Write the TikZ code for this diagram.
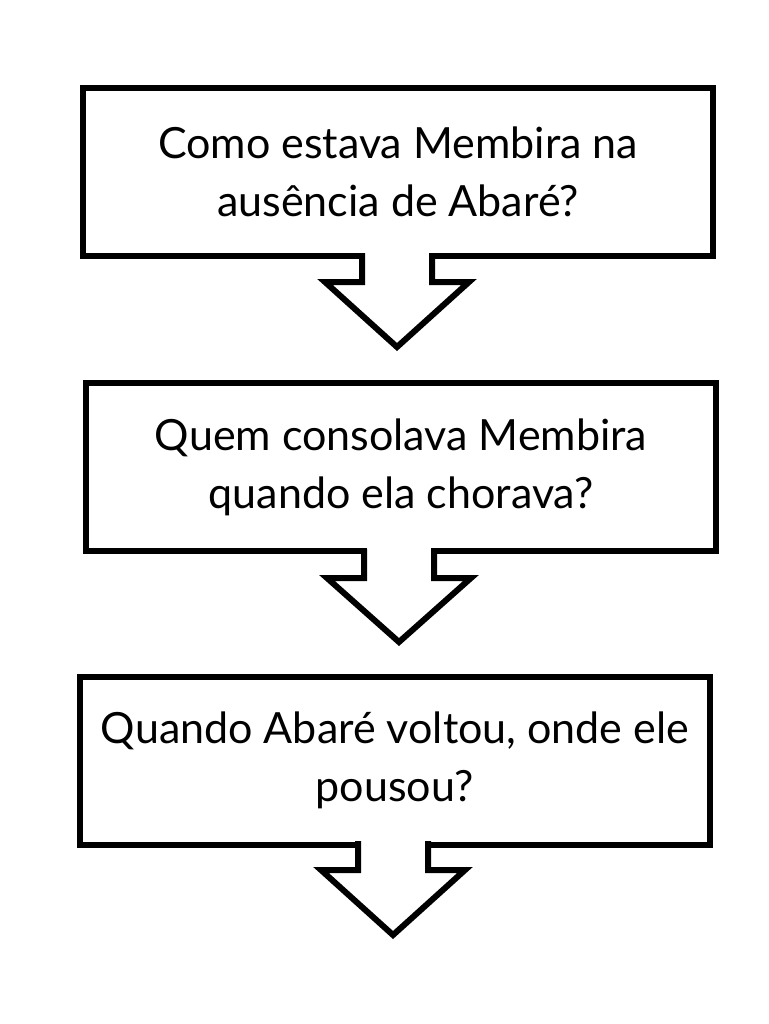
\documentclass[tikz,border=0pt]{standalone}
\usepackage{fontspec}
\setmainfont{Lato}
\begin{document}
\begin{tikzpicture}[x=1pt,y=-1pt,
  qbox/.style={draw,line width=6pt,fill=white,minimum width=630pt,minimum height=168pt,inner sep=0pt,align=center,font=\fontsize{43}{58}\selectfont},
  arr/.style={line width=6pt,fill=white,line join=miter}]
\useasboundingbox (0,0) rectangle (768,1024);
\node[qbox] (b1) at (398,172) {Como estava Membira na\\ausência de Abaré?};
\node[qbox] (b2) at (401,467) {Quem consolava Membira\\quando ela chorava?};
\node[qbox] (b3) at (395,760.5) {Quando Abaré voltou, onde ele\\pousou?};
\foreach \b/\cx/\sy/\hy/\ty in {b1/397/282/282/347, b2/399/578/578/642, b3/393/870/870/935}{
  \fill[white] (\cx-32,\sy-32) rectangle (\cx+32,\sy);
  \draw[arr] (\cx-35,\sy-29) -- (\cx-35,\hy) -- (\cx-72,\hy) -- (\cx,\ty) -- (\cx+72,\hy) -- (\cx+35,\hy) -- (\cx+35,\sy-29);
}
\end{tikzpicture}
\end{document}
